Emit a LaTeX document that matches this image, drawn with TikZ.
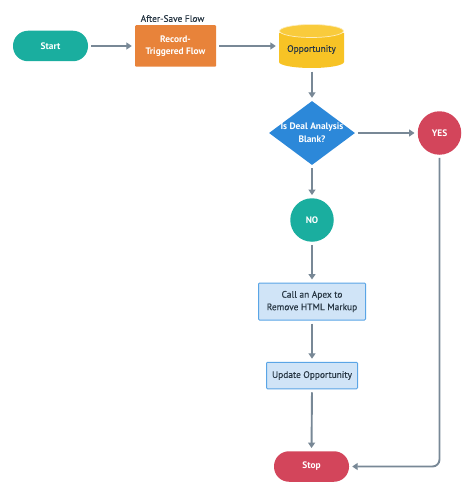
\documentclass[tikz,border=0pt]{standalone}
\usepackage{fontspec}
\setmainfont{PT Sans}
\newfontfamily\medfont[FakeBold=0.3]{PT Sans}
\usetikzlibrary{arrows.meta,shapes.geometric}
\definecolor{teal}{HTML}{1AAE9F}
\definecolor{rosered}{HTML}{D3455B}
\definecolor{orng}{HTML}{E8833A}
\definecolor{gold}{HTML}{F7C325}
\definecolor{goldtop}{HTML}{F9CB3C}
\definecolor{bluedia}{HTML}{2C88D9}
\definecolor{paleblue}{HTML}{D0E4F7}
\definecolor{edgeblue}{HTML}{5AA5E6}
\definecolor{wire}{HTML}{788896}
\definecolor{ink}{HTML}{293845}
\tikzset{
  lbl/.style={font=\fontsize{9.4pt}{13pt}\selectfont\medfont, align=center},
  whitelbl/.style={lbl, text=white, font=\fontsize{9.4pt}{13pt}\selectfont\bfseries},
  pill/.style={whitelbl, rectangle, rounded corners=15pt, minimum width=75pt, minimum height=30.5pt, inner sep=0pt},
  disc/.style={whitelbl, circle, minimum size=43.5pt, inner sep=0pt},
  pale/.style={lbl, text=ink, rectangle, rounded corners=1pt, fill=paleblue, draw=edgeblue, line width=1pt, inner sep=0pt},
  wirestyle/.style={draw=wire, line width=1.9pt, -{Triangle[length=5.5pt,width=7pt]}, shorten >=3pt, shorten <=3pt}
}
\begin{document}
\begin{tikzpicture}[x=1pt,y=-1pt]
\useasboundingbox (0,0) rectangle (474,495);
\node[pill, fill=teal] (start) at (50.5,46) {Start};
\node[whitelbl, rectangle, rounded corners=1pt, fill=orng, minimum width=81pt, minimum height=41.5pt, inner sep=0pt] (rec) at (175.5,46) {Record-\\[-0.5pt]Triggered Flow};
\node[lbl, text=ink, anchor=south] (cap) at (172.5,25.5) {After-Save Flow};
% cylinder
\fill[gold] (279,33) -- (279,62) arc[start angle=180, end angle=360, x radius=32.5pt, y radius=6pt] -- (344,33) -- cycle;
\fill[goldtop, draw=white!70!gold, line width=0.7pt] (311.5,31) ellipse[x radius=32pt, y radius=6.5pt];
\node[minimum width=65pt, minimum height=45pt, inner sep=0pt] (opp) at (311.5,46) {};
\node[lbl, text=ink] (opptext) at (311.5,49.5) {Opportunity};
\node[diamond, aspect=1.344, fill=bluedia, minimum width=86pt, minimum height=64pt, inner sep=0pt] (dec) at (312,133) {};
\node[whitelbl] (dectext) at (312,132.5) {Is Deal Analysis\\[-0.5pt]Blank?};
\node[disc, fill=rosered] (yes) at (439.5,133) {YES};
\node[disc, fill=teal] (no) at (312,220) {NO};
\node[pale, minimum width=107pt, minimum height=37pt] (call) at (312,301.5) {Call an Apex to\\[-0.5pt]Remove HTML Markup};
\node[pale, minimum width=91pt, minimum height=26.5pt] (upd) at (312,375.5) {Update Opportunity};
\node[pill, fill=rosered] (stop) at (311.5,466.5) {Stop};
\draw[wirestyle] (start.east) -- (rec.west);
\draw[wirestyle] (rec.east) -- (opp.west);
\draw[wirestyle] (opp.south -| dec.north) -- (dec.north);
\draw[wirestyle] (dec.east) -- (yes.west);
\draw[wirestyle] (dec.south) -- (no.north);
\draw[wirestyle] (no.south) -- (call.north);
\draw[wirestyle] (call.south) -- (upd.north);
\draw[wirestyle] (upd.south) -- (stop.north);
\draw[wirestyle, rounded corners=7pt] (yes.south) |- (stop.east);
\end{tikzpicture}
\end{document}
